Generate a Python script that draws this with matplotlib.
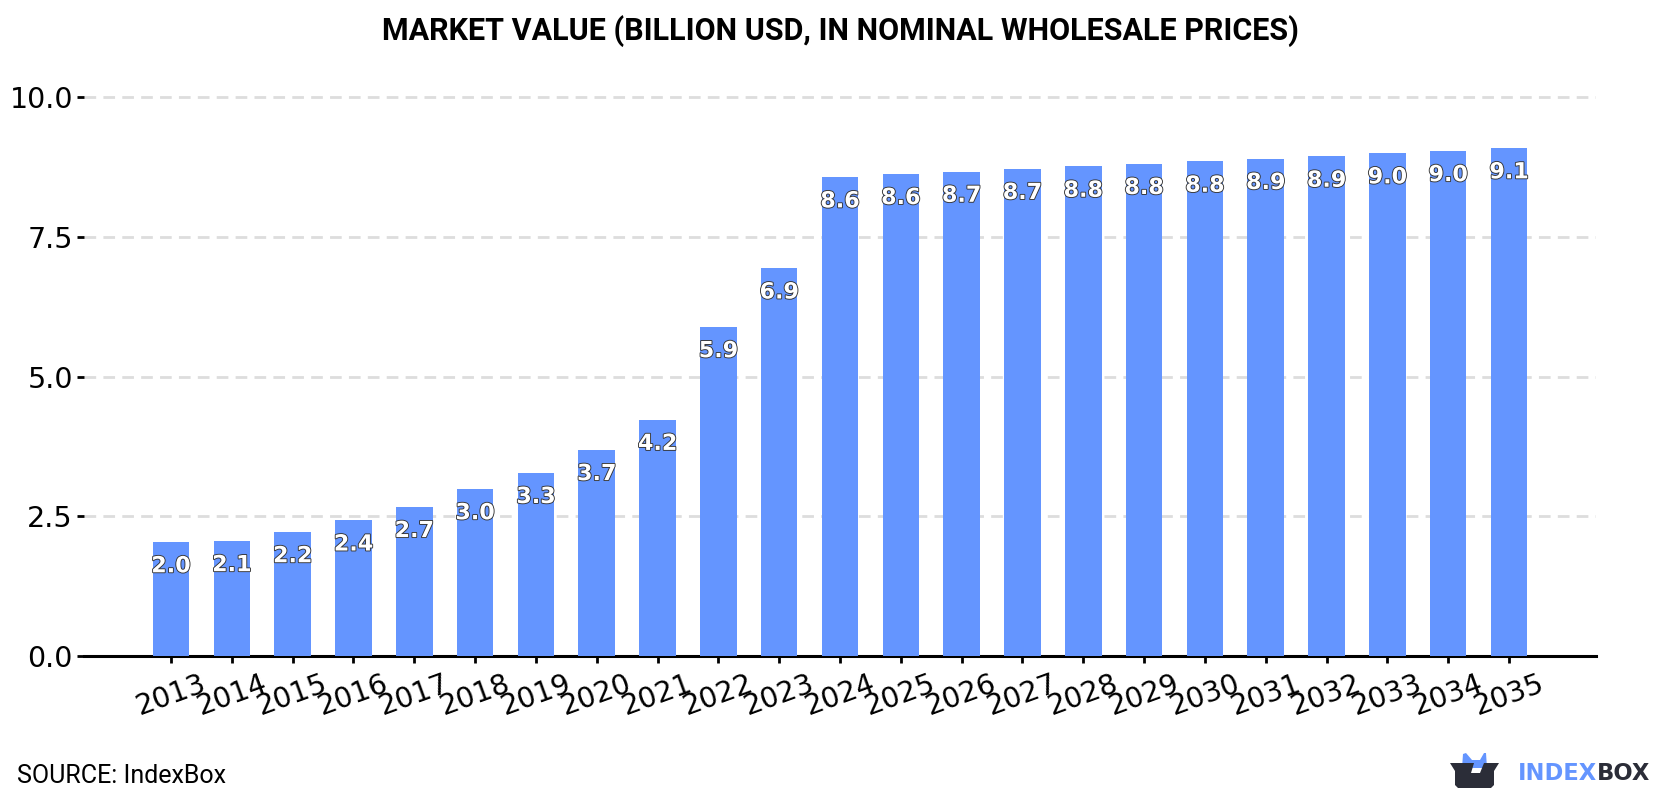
import matplotlib
matplotlib.use('Agg')
import matplotlib.pyplot as plt
import matplotlib.patheffects as pe
from matplotlib.patches import Polygon

years = ['2013', '2014', '2015', '2016', '2017', '2018', '2019', '2020', '2021', '2022', '2023', '2024',
         '2025', '2026', '2027', '2028', '2029', '2030', '2031', '2032', '2033', '2034', '2035']
values = [2.04, 2.06, 2.22, 2.43, 2.67, 2.99, 3.28, 3.69, 4.23, 5.89, 6.94, 8.57,
          8.63, 8.67, 8.72, 8.76, 8.81, 8.85, 8.90, 8.94, 9.00, 9.04, 9.09]
yticks = [0.0, 2.5, 5.0, 7.5, 10.0]

W, H = 1680, 800
blue = '#6495ff'
dark = '#2b2d38'

fig = plt.figure(figsize=(W / 100, H / 100), dpi=100)
ax = fig.add_axes([84 / W, 1 - 656 / H, (1596 - 84) / W, (656 - 90) / H])

x = list(range(len(years)))
ax.bar(x, values, width=0.6, color=blue, zorder=3)
ax.set_xlim(-1.43, 22 + 1.43)
ax.set_ylim(0, 566 / 55.88)

for xi, v in zip(x, values):
    ax.annotate(f'{v:.1f}', (xi, v), xytext=(0, -17.5), textcoords='offset points',
                ha='center', va='center', fontsize=16, fontweight='bold', color='white', zorder=5,
                path_effects=[pe.withStroke(linewidth=1.3, foreground='#333333')])

ax.set_yticks(yticks)
ax.set_yticklabels([f'{t:.1f}' for t in yticks])
ax.set_xticks(x)
ax.set_xticklabels(years, rotation=20, ha='center')
ax.tick_params(axis='y', labelsize=20.5, length=5, width=2, pad=3)
ax.tick_params(axis='x', labelsize=20.5, length=5, width=2, pad=5)
ax.grid(axis='y', color='#dddddd', linewidth=2, linestyle=(0, (4.2, 2.6)), zorder=0)
ax.set_axisbelow(True)

for s in ['top', 'right', 'left']:
    ax.spines[s].set_visible(False)
ax.spines['bottom'].set_linewidth(2.2)

fig.text(840 / W, 1 - 31 / H, 'MARKET VALUE (BILLION USD, IN NOMINAL WHOLESALE PRICES)',
         ha='center', va='center', fontsize=22, fontweight='bold', family='Roboto', color='black')
fig.text(17 / W, 1 - 776 / H, 'SOURCE: IndexBox', ha='left', va='center', fontsize=18, family='Roboto', color='black')

# logo, drawn on an overlay in pixel coordinates
over = fig.add_axes([0, 0, 1, 1])
over.set_xlim(0, W)
over.set_ylim(H, 0)
over.axis('off')
over.add_patch(Polygon([(1462, 768), (1463, 754), (1466, 753), (1472, 760), (1480, 760), (1484, 753),
                        (1486, 753), (1487, 768)], closed=True, fc=blue, ec='none'))
over.add_patch(Polygon([(1450, 763), (1474, 763), (1471, 773), (1480, 773), (1484, 763), (1499, 763),
                        (1494, 771), (1494, 785), (1491, 788), (1458, 788), (1455, 785), (1455, 771)],
                       closed=True, fc=dark, ec='none'))
over.text(1597, 773.5, 'INDEX', ha='right', va='center', fontsize=16.3, fontweight='bold', family='DejaVu Sans', color=blue)
over.text(1597, 773.5, 'BOX', ha='left', va='center', fontsize=16.3, fontweight='bold', family='DejaVu Sans', color=dark)

fig.savefig('out.png', dpi=100)
